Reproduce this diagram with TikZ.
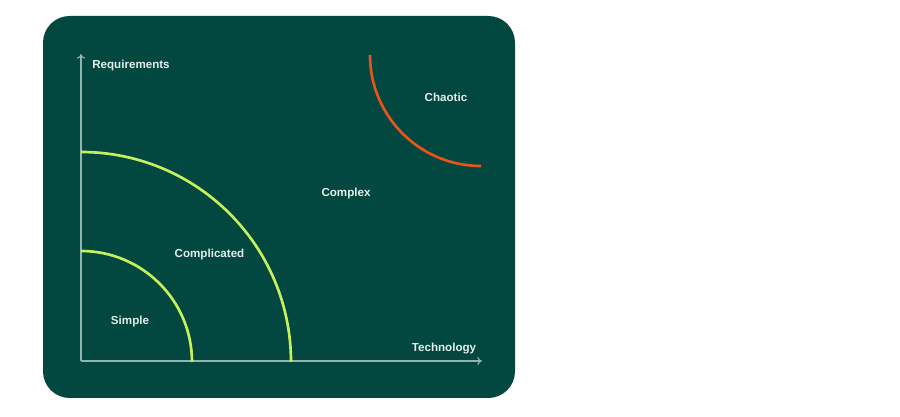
\documentclass[tikz,border=0pt]{standalone}
\usepackage{fontspec}
\setmainfont{Liberation Sans}
\usetikzlibrary{arrows.meta}
\definecolor{bg}{RGB}{2,71,64}
\definecolor{axis}{RGB}{150,180,174}
\definecolor{lime}{RGB}{200,240,92}
\definecolor{chaos}{RGB}{232,84,26}
\definecolor{txt}{RGB}{228,238,235}
\begin{document}
\begin{tikzpicture}[x=0.75pt,y=0.75pt,
  lbl/.style={text=txt,font=\fontsize{8.7}{10}\selectfont\bfseries,inner sep=0pt},
  axisline/.style={draw=axis,line width=0.8pt,-{To[length=3.5pt,width=6pt]}},
  limearc/.style={draw=lime,line width=2pt},
  chaosarc/.style={draw=chaos,line width=2pt}]
\useasboundingbox (0,0) rectangle (900,417);
\fill[bg,rounded corners=20pt] (43,19) rectangle (515,401);
\coordinate (O) at (81,56);
\coordinate (Ytop) at (81,363);
\coordinate (Xend) at (482,56);
\draw[axisline] (O) -- (Ytop);
\draw[axisline] (O) -- (Xend);
\draw[limearc] (81,166) arc[start angle=90,end angle=0,radius=111];
\draw[limearc] (81,265) arc[start angle=90,end angle=0,radius=210];
\draw[chaosarc] (370,362) arc[start angle=180,end angle=270,radius=111];
\node[lbl] (req) at (131,351) {Requirements};
\node[lbl] (tech) at (444,68) {Technology};
\node[lbl] (chaotic) at (446,319.5) {Chaotic};
\node[lbl] (complex) at (346,223) {Complex};
\node[lbl] (complicated) at (209.5,162) {Complicated};
\node[lbl] (simple) at (130,95) {Simple};
\end{tikzpicture}
\end{document}
